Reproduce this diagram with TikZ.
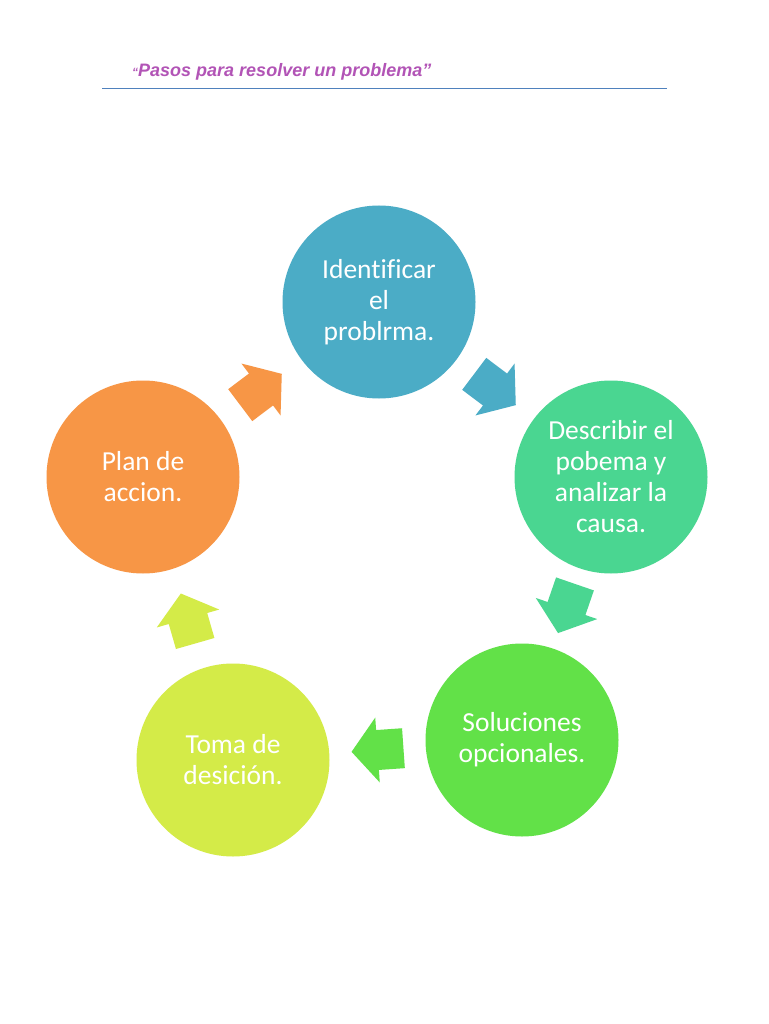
\documentclass[tikz,border=0pt]{standalone}
\usepackage{fontspec}
\setmainfont{Carlito}[Ligatures=NoCommon]
\newfontfamily\titlefont{Liberation Sans}
\usetikzlibrary{calc}
\definecolor{cblue}{RGB}{75,172,198}
\definecolor{cteal}{RGB}{74,214,145}
\definecolor{cgreen}{RGB}{98,225,72}
\definecolor{clime}{RGB}{212,235,72}
\definecolor{corange}{RGB}{247,150,70}
\definecolor{ctitle}{RGB}{178,84,182}
\definecolor{crule}{RGB}{79,129,189}
\tikzset{
  stepcircle/.style={circle, fill=#1, draw=none, minimum size=193pt, inner sep=0pt,
    text=white, align=center, font=\fontsize{27.5}{31}\selectfont},
  titletext/.style={text=ctitle, font=\titlefont\bfseries\itshape\fontsize{18}{20}\selectfont, inner sep=0pt},
  rulestyle/.style={draw=crule, line width=1pt},
}
\newcommand{\cyclearrow}[4]{%
  \begin{scope}[shift={($(#1)!0.5!(#2)$)}, rotate=#3]
    \fill[#4] (-26pt,-20pt) -- (0pt,-20pt) -- (0pt,-32.5pt) -- (26pt,0pt)
      -- (0pt,32.5pt) -- (0pt,20pt) -- (-26pt,20pt) -- cycle;
  \end{scope}}
\begin{document}
\begin{tikzpicture}[x=1pt,y=-1pt]
\useasboundingbox[fill=white] (0,0) rectangle (768,1024);
% title and rule
\node[titletext, anchor=base west] (title) at (132,77)
  {{\fontsize{12}{12}\selectfont “}Pasos para resolver un problema”};
\coordinate (ruleL) at (102,89);
\coordinate (ruleR) at (667,89);
\draw[rulestyle] (ruleL) -- (ruleR);
% circles
\node[stepcircle=cblue] (c1) at (379,302) {Identificar\\el\\problrma.};
\node[stepcircle=cteal] (c2) at (611,477) {Describir el\\pobema y\\analizar la\\causa.};
\node[stepcircle=cgreen] (c3) at (522,740) {Soluciones\\opcionales.};
\node[stepcircle=clime] (c4) at (233,760) {Toma de\\desición.};
\node[stepcircle=corange] (c5) at (143,477) {Plan de\\accion.};
% block arrows
\cyclearrow{c1}{c2}{-37}{cblue}
\cyclearrow{c2}{c3}{-109}{cteal}
\cyclearrow{c3}{c4}{184}{cgreen}
\cyclearrow{c4}{c5}{106}{clime}
\cyclearrow{c5}{c1}{37}{corange}
\end{tikzpicture}
\end{document}
